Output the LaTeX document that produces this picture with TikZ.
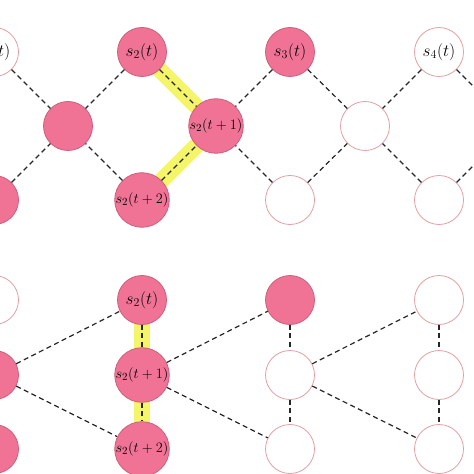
\documentclass[tikz,border=0pt]{standalone}
\definecolor{pinkfill}{RGB}{240,115,150}
\definecolor{pinkdraw}{RGB}{205,95,125}
\definecolor{whitedraw}{RGB}{225,160,165}
\definecolor{hl}{RGB}{245,245,105}
\begin{document}
\begin{tikzpicture}[x=1bp,y=-1bp,
  st/.style={circle,minimum size=49bp,inner sep=0pt,line width=0.8bp},
  on/.style={st,fill=pinkfill,draw=pinkdraw},
  off/.style={st,fill=white,draw=whitedraw},
  ghost/.style={st},
  big/.style={font=\fontsize{18}{20}\selectfont},
  sml/.style={font=\fontsize{15}{17}\selectfont},
  edge/.style={dash pattern=on 5bp off 3.5bp,line width=1.2bp,black!85},
  hlt/.style={line width=16bp,hl}]
\useasboundingbox (0,0) rectangle (474,474);
\clip (0,0) rectangle (474,474);
% ---------- highlight bands (drawn first, behind nodes) ----------
\coordinate (A2) at (142,52);
\coordinate (M2) at (216,126);
\coordinate (B2) at (142,200);
\coordinate (C2) at (142,300);
\coordinate (D2) at (142,375);
\coordinate (E2) at (142,449);
\draw[hlt] (A2) -- (M2) -- (B2);
\draw[hlt] (C2) -- (D2) -- (E2);
% ---------- top graph ----------
\node[off,big] (a1) at (-6,52) {$s_1(t)$};
\node[on,big]  (a2) at (A2) {$s_2(t)$};
\node[on,big]  (a3) at (290,52) {$s_3(t)$};
\node[off,big] (a4) at (439,52) {$s_4(t)$};
\node[on]      (m1) at (68,126) {};
\node[on,sml]  (m2) at (M2) {$s_2(t+1)$};
\node[off]     (m3) at (365,126) {};
\node[ghost]   (m4) at (513,126) {};
\node[on]      (b1) at (-6,200) {};
\node[on,sml]  (b2) at (B2) {$s_2(t+2)$};
\node[off]     (b3) at (290,200) {};
\node[off]     (b4) at (439,200) {};
% ---------- bottom graph ----------
\node[off]     (c1) at (-6,300) {};
\node[on,big]  (c2) at (C2) {$s_2(t)$};
\node[on]      (c3) at (290,300) {};
\node[off]     (c4) at (439,300) {};
\node[on]      (d1) at (-6,375) {};
\node[on,sml]  (d2) at (D2) {$s_2(t+1)$};
\node[off]     (d3) at (290,375) {};
\node[off]     (d4) at (439,375) {};
\node[on]      (e1) at (-6,449) {};
\node[on,sml]  (e2) at (E2) {$s_2(t+2)$};
\node[off]     (e3) at (290,449) {};
\node[off]     (e4) at (439,449) {};
% ---------- edges, top ----------
\foreach \u/\v in {a1/m1,a2/m1,b1/m1,b2/m1,a2/m2,a3/m2,b2/m2,b3/m2,a3/m3,a4/m3,b3/m3,b4/m3,a4/m4,b4/m4}
  \draw[edge] (\u) -- (\v);
% ---------- edges, bottom ----------
\foreach \u/\v in {c2/d2,d2/e2,c3/d3,d3/e3,c4/d4,d4/e4,d1/c2,d1/e2,d2/c3,d2/e3,d3/c4,d3/e4}
  \draw[edge] (\u) -- (\v);
\end{tikzpicture}
\end{document}
